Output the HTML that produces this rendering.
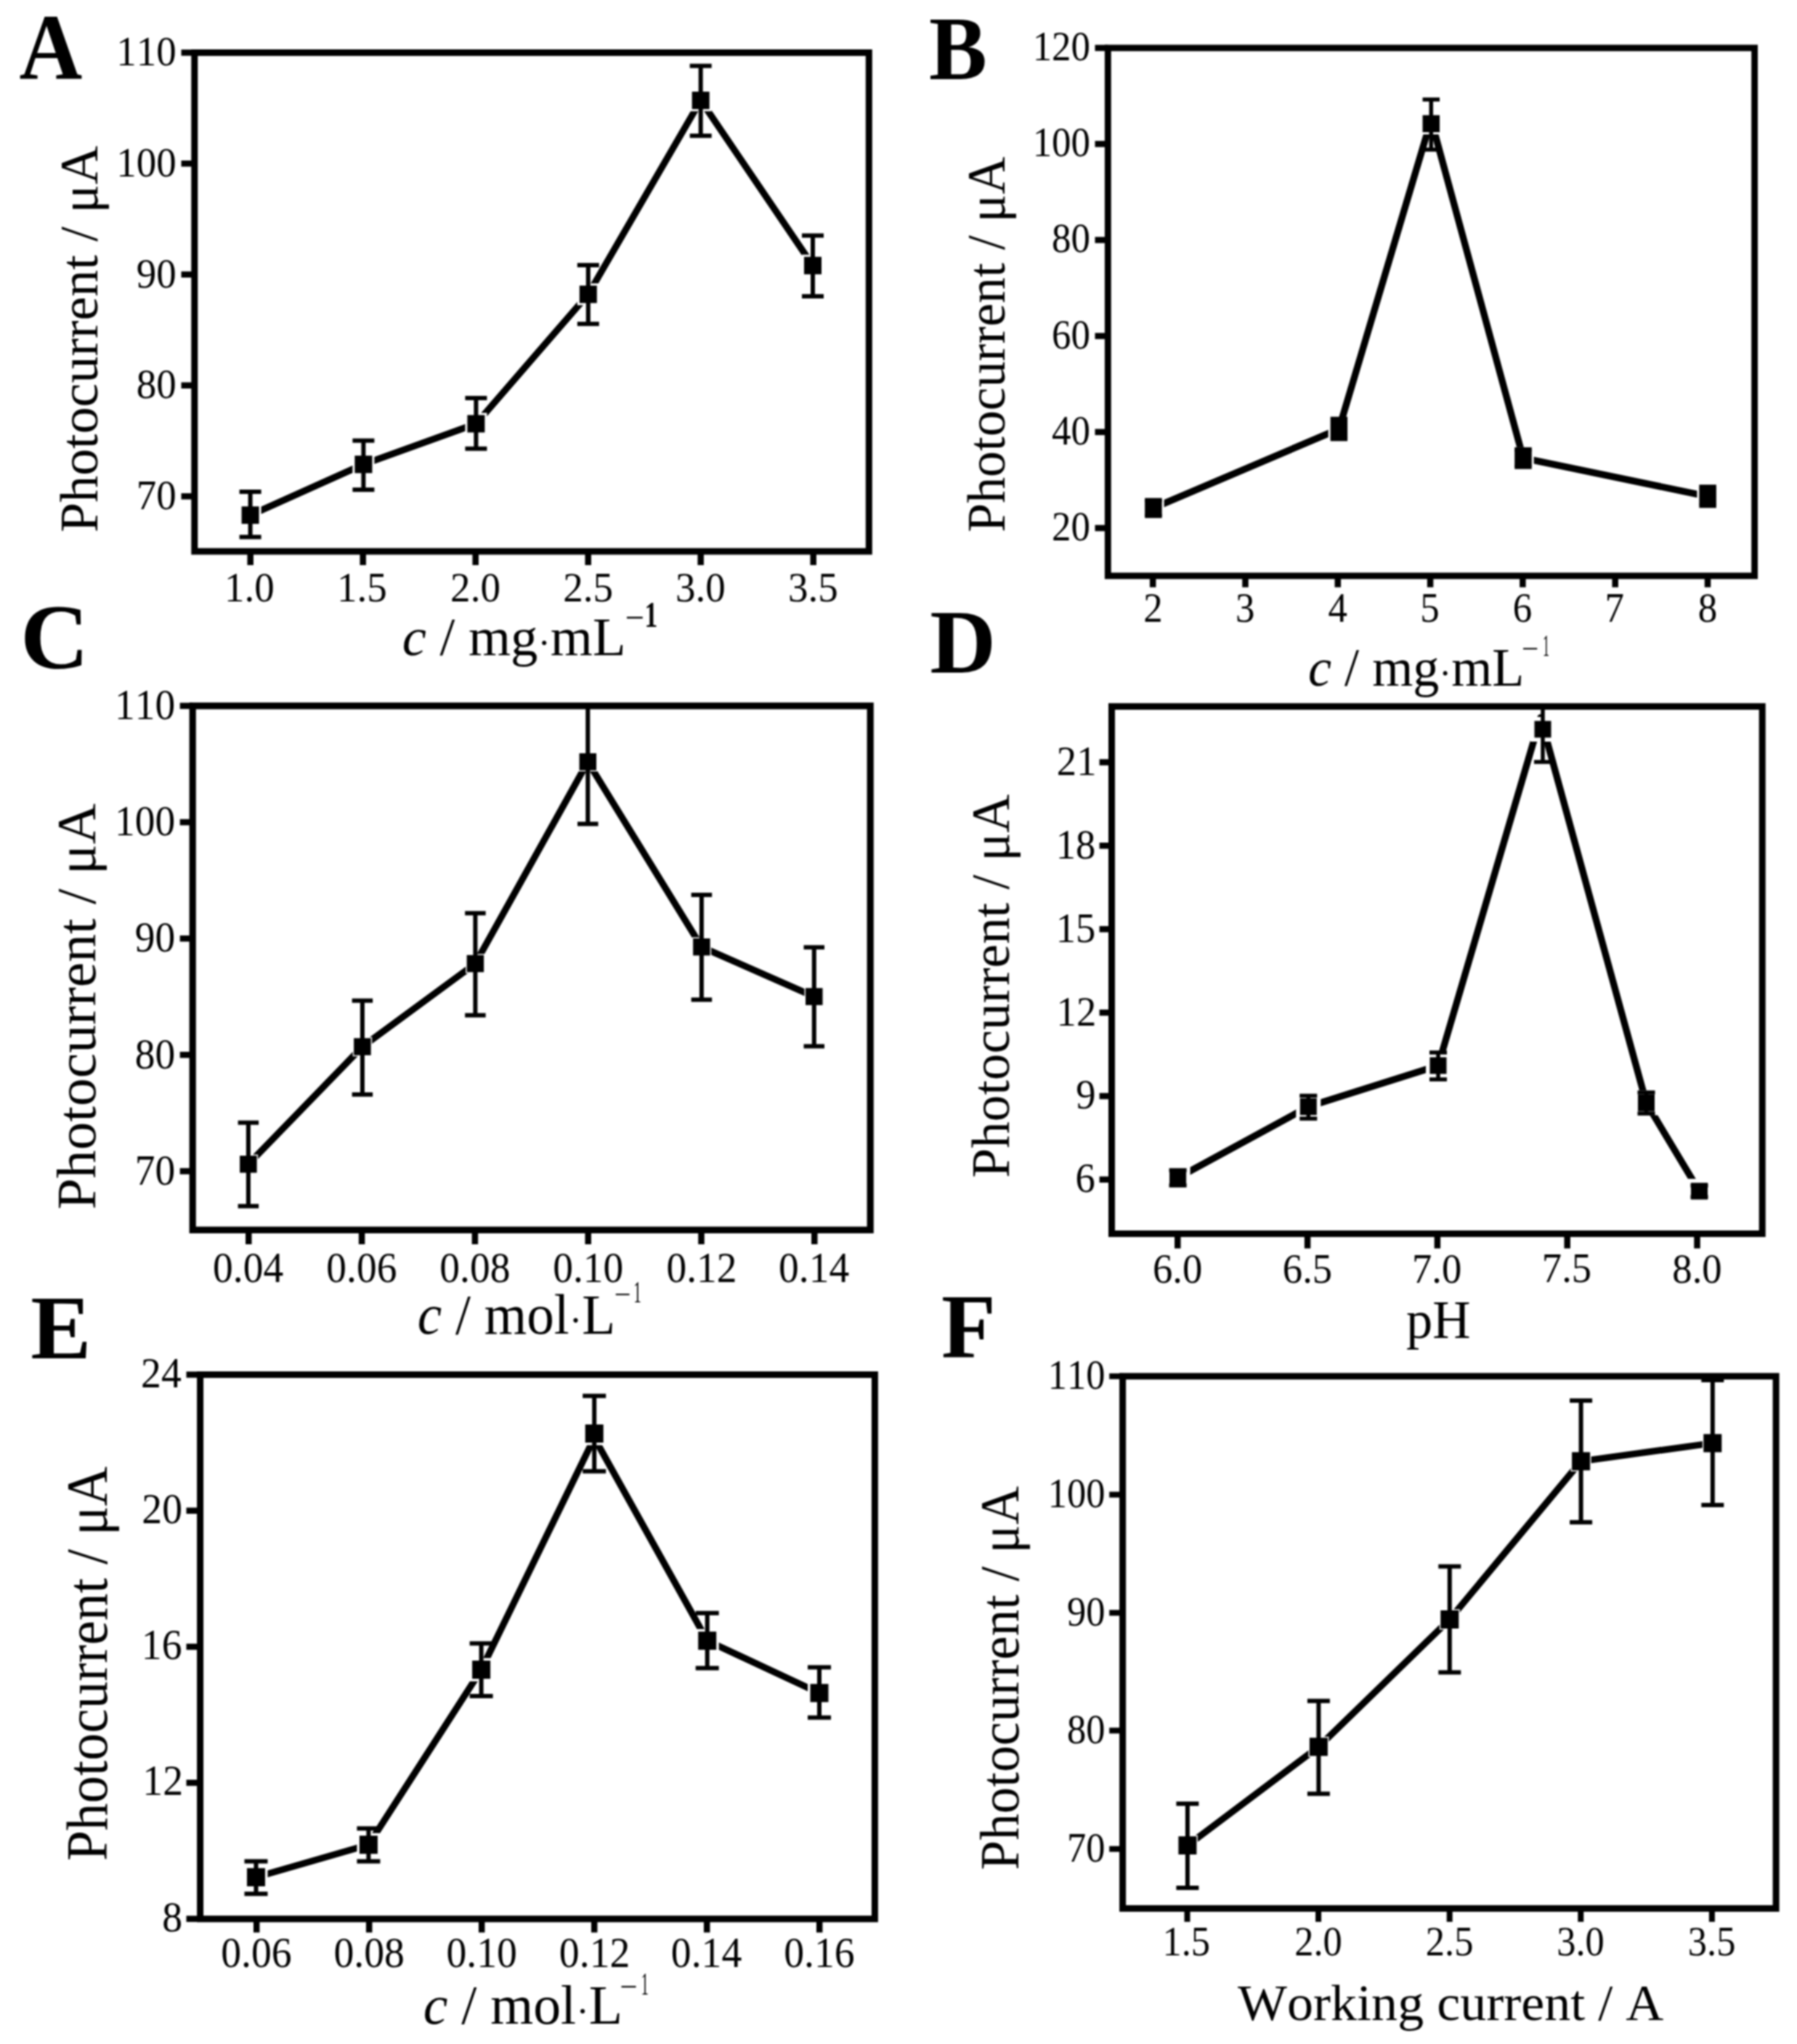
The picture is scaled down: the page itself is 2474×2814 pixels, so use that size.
<!DOCTYPE html>
<html><head><meta charset="utf-8"><title>Photocurrent optimization</title>
<style>
html,body{margin:0;padding:0;background:#fff;}
svg{display:block;filter:blur(0.9px);}
svg text{font-family:"Liberation Serif", "Times New Roman", serif;fill:#000;font-kerning:none;}
</style></head>
<body>
<svg xmlns="http://www.w3.org/2000/svg" width="2474" height="2814" viewBox="0 0 2474 2814">
<rect width="2474" height="2814" fill="#fff"/>
<rect x="267.8" y="72.5" width="928.5" height="686.6" fill="none" stroke="#000" stroke-width="9"/>
<line x1="249.5" y1="72.5" x2="267.8" y2="72.5" stroke="#000" stroke-width="8.5"/>
<line x1="249.5" y1="225.2" x2="267.8" y2="225.2" stroke="#000" stroke-width="8.5"/>
<line x1="249.5" y1="377.9" x2="267.8" y2="377.9" stroke="#000" stroke-width="8.5"/>
<line x1="249.5" y1="530.6" x2="267.8" y2="530.6" stroke="#000" stroke-width="8.5"/>
<line x1="249.5" y1="683.3" x2="267.8" y2="683.3" stroke="#000" stroke-width="8.5"/>
<line x1="344.7" y1="759.1" x2="344.7" y2="778" stroke="#000" stroke-width="8.5"/>
<line x1="499.7" y1="759.1" x2="499.7" y2="778" stroke="#000" stroke-width="8.5"/>
<line x1="654.7" y1="759.1" x2="654.7" y2="778" stroke="#000" stroke-width="8.5"/>
<line x1="809.7" y1="759.1" x2="809.7" y2="778" stroke="#000" stroke-width="8.5"/>
<line x1="964.7" y1="759.1" x2="964.7" y2="778" stroke="#000" stroke-width="8.5"/>
<line x1="1119.7" y1="759.1" x2="1119.7" y2="778" stroke="#000" stroke-width="8.5"/>
<text transform="translate(160.25,90.2) scale(0.95,1)" font-size="58">110</text>
<text transform="translate(160.25,242.9) scale(0.95,1)" font-size="58">100</text>
<text transform="translate(187.8,395.6) scale(0.95,1)" font-size="58">90</text>
<text transform="translate(187.8,548.3) scale(0.95,1)" font-size="58">80</text>
<text transform="translate(187.8,701) scale(0.95,1)" font-size="58">70</text>
<text transform="translate(308.89,828.18) scale(0.95,1)" font-size="58">1.0</text>
<text transform="translate(463.92,828.03) scale(0.95,1)" font-size="58">1.5</text>
<text transform="translate(620.1,828.18) scale(0.95,1)" font-size="58">2.0</text>
<text transform="translate(775.13,828.09) scale(0.95,1)" font-size="58">2.5</text>
<text transform="translate(929.99,828.18) scale(0.95,1)" font-size="58">3.0</text>
<text transform="translate(1085.02,828.09) scale(0.95,1)" font-size="58">3.5</text>
<mask id="m0" maskUnits="userSpaceOnUse" x="0" y="0" width="2474" height="2814"><rect width="2474" height="2814" fill="#fff"/><rect x="329.6" y="694.2" width="30" height="30" fill="#000"/><rect x="485.4" y="624.3" width="30" height="30" fill="#000"/><rect x="640.4" y="568.4" width="30" height="30" fill="#000"/><rect x="794.8" y="390.2" width="30" height="30" fill="#000"/><rect x="949.7" y="123.2" width="30" height="30" fill="#000"/><rect x="1104" y="350.6" width="30" height="30" fill="#000"/></mask>
<polyline points="344.6,709.2 500.4,639.3 655.4,583.4 809.8,405.2 964.7,138.2 1119,365.6" fill="none" stroke="#000" stroke-width="9.2" stroke-linejoin="round" mask="url(#m0)"/>
<line x1="344.6" y1="677" x2="344.6" y2="739.3" stroke="#000" stroke-width="6"/>
<line x1="329.6" y1="677" x2="359.6" y2="677" stroke="#000" stroke-width="6"/>
<line x1="329.6" y1="739.3" x2="359.6" y2="739.3" stroke="#000" stroke-width="6"/>
<rect x="332.6" y="697.2" width="24" height="24" fill="#000"/>
<line x1="500.4" y1="606.6" x2="500.4" y2="674.2" stroke="#000" stroke-width="6"/>
<line x1="485.4" y1="606.6" x2="515.4" y2="606.6" stroke="#000" stroke-width="6"/>
<line x1="485.4" y1="674.2" x2="515.4" y2="674.2" stroke="#000" stroke-width="6"/>
<rect x="488.4" y="627.3" width="24" height="24" fill="#000"/>
<line x1="655.4" y1="548" x2="655.4" y2="617.7" stroke="#000" stroke-width="6"/>
<line x1="640.4" y1="548" x2="670.4" y2="548" stroke="#000" stroke-width="6"/>
<line x1="640.4" y1="617.7" x2="670.4" y2="617.7" stroke="#000" stroke-width="6"/>
<rect x="643.4" y="571.4" width="24" height="24" fill="#000"/>
<line x1="809.8" y1="365" x2="809.8" y2="445.9" stroke="#000" stroke-width="6"/>
<line x1="794.8" y1="365" x2="824.8" y2="365" stroke="#000" stroke-width="6"/>
<line x1="794.8" y1="445.9" x2="824.8" y2="445.9" stroke="#000" stroke-width="6"/>
<rect x="797.8" y="393.2" width="24" height="24" fill="#000"/>
<line x1="964.7" y1="90.7" x2="964.7" y2="186.9" stroke="#000" stroke-width="6"/>
<line x1="949.7" y1="90.7" x2="979.7" y2="90.7" stroke="#000" stroke-width="6"/>
<line x1="949.7" y1="186.9" x2="979.7" y2="186.9" stroke="#000" stroke-width="6"/>
<rect x="952.7" y="126.2" width="24" height="24" fill="#000"/>
<line x1="1119" y1="324.3" x2="1119" y2="407.9" stroke="#000" stroke-width="6"/>
<line x1="1104" y1="324.3" x2="1134" y2="324.3" stroke="#000" stroke-width="6"/>
<line x1="1104" y1="407.9" x2="1134" y2="407.9" stroke="#000" stroke-width="6"/>
<rect x="1107" y="353.6" width="24" height="24" fill="#000"/>
<text transform="translate(134.2,732.93) rotate(-90) scale(0.9865,1)" font-size="74.96">Photocurrent / μA</text>
<text transform="translate(553.8,901.7) scale(1.0170,1)" font-size="73.44"><tspan font-style="italic">c</tspan> / mg<tspan font-size="51.4">·</tspan>mL</text><text transform="translate(887.55,862.9) scale(0.7118,1)" font-size="49.99" font-weight="bold">1</text><text transform="translate(860.57,866.6) scale(0.9370,1)" font-size="50">−</text>
<text transform="translate(26.53,108) scale(0.9374,1)" font-size="128.3" font-weight="bold">A</text>
<rect x="1525.3" y="66" width="890.3" height="726.8" fill="none" stroke="#000" stroke-width="8.8"/>
<line x1="1507.5" y1="66" x2="1525.3" y2="66" stroke="#000" stroke-width="8.5"/>
<line x1="1507.5" y1="198.2" x2="1525.3" y2="198.2" stroke="#000" stroke-width="8.5"/>
<line x1="1507.5" y1="330.4" x2="1525.3" y2="330.4" stroke="#000" stroke-width="8.5"/>
<line x1="1507.5" y1="462.6" x2="1525.3" y2="462.6" stroke="#000" stroke-width="8.5"/>
<line x1="1507.5" y1="594.8" x2="1525.3" y2="594.8" stroke="#000" stroke-width="8.5"/>
<line x1="1507.5" y1="727" x2="1525.3" y2="727" stroke="#000" stroke-width="8.5"/>
<line x1="1587.2" y1="792.8" x2="1587.2" y2="808.5" stroke="#000" stroke-width="8.5"/>
<line x1="1714.5" y1="792.8" x2="1714.5" y2="808.5" stroke="#000" stroke-width="8.5"/>
<line x1="1841.8" y1="792.8" x2="1841.8" y2="808.5" stroke="#000" stroke-width="8.5"/>
<line x1="1969.1" y1="792.8" x2="1969.1" y2="808.5" stroke="#000" stroke-width="8.5"/>
<line x1="2096.4" y1="792.8" x2="2096.4" y2="808.5" stroke="#000" stroke-width="8.5"/>
<line x1="2223.7" y1="792.8" x2="2223.7" y2="808.5" stroke="#000" stroke-width="8.5"/>
<line x1="2351" y1="792.8" x2="2351" y2="808.5" stroke="#000" stroke-width="8.5"/>
<text transform="translate(1421.64,83.05) scale(0.945,1)" font-size="56">120</text>
<text transform="translate(1421.64,215.25) scale(0.945,1)" font-size="56">100</text>
<text transform="translate(1448.1,347.45) scale(0.945,1)" font-size="56">80</text>
<text transform="translate(1448.1,479.65) scale(0.945,1)" font-size="56">60</text>
<text transform="translate(1448.1,611.85) scale(0.945,1)" font-size="56">40</text>
<text transform="translate(1448.1,744.05) scale(0.945,1)" font-size="56">20</text>
<text transform="translate(1574.27,856.14) scale(0.945,1)" font-size="56">2</text>
<text transform="translate(1701.04,855.87) scale(0.945,1)" font-size="56">3</text>
<text transform="translate(1828.47,856.03) scale(0.945,1)" font-size="56">4</text>
<text transform="translate(1955.37,855.66) scale(0.945,1)" font-size="56">5</text>
<text transform="translate(2082.82,855.87) scale(0.945,1)" font-size="56">6</text>
<text transform="translate(2209.49,855.93) scale(0.945,1)" font-size="56">7</text>
<text transform="translate(2337.77,855.95) scale(0.945,1)" font-size="56">8</text>
<mask id="m1" maskUnits="userSpaceOnUse" x="0" y="0" width="2474" height="2814"><rect width="2474" height="2814" fill="#fff"/><rect x="1573.15" y="684.65" width="29.5" height="29.5" fill="#000"/><rect x="1828.65" y="575.85" width="29.5" height="29.5" fill="#000"/><rect x="1955.55" y="155.55" width="29.5" height="29.5" fill="#000"/><rect x="2082.25" y="615.85" width="29.5" height="29.5" fill="#000"/><rect x="2336.35" y="668.55" width="29.5" height="29.5" fill="#000"/></mask>
<polyline points="1587.9,699.4 1843.4,590.6 1970.3,165 2097,630.6 2351.1,683.3" fill="none" stroke="#000" stroke-width="9.4" stroke-linejoin="round" mask="url(#m1)"/>
<line x1="1587.9" y1="688.4" x2="1587.9" y2="710.4" stroke="#000" stroke-width="5.5"/>
<line x1="1576.15" y1="688.4" x2="1599.65" y2="688.4" stroke="#000" stroke-width="5.5"/>
<line x1="1576.15" y1="710.4" x2="1599.65" y2="710.4" stroke="#000" stroke-width="5.5"/>
<rect x="1576.15" y="687.65" width="23.5" height="23.5" fill="#000"/>
<line x1="1843.4" y1="576.5" x2="1843.4" y2="604.5" stroke="#000" stroke-width="5.5"/>
<line x1="1831.65" y1="576.5" x2="1855.15" y2="576.5" stroke="#000" stroke-width="5.5"/>
<line x1="1831.65" y1="604.5" x2="1855.15" y2="604.5" stroke="#000" stroke-width="5.5"/>
<rect x="1831.65" y="578.85" width="23.5" height="23.5" fill="#000"/>
<line x1="1970.3" y1="137" x2="1970.3" y2="206" stroke="#000" stroke-width="5.5"/>
<line x1="1958.55" y1="137" x2="1982.05" y2="137" stroke="#000" stroke-width="5.5"/>
<line x1="1958.55" y1="206" x2="1982.05" y2="206" stroke="#000" stroke-width="5.5"/>
<rect x="1958.55" y="158.55" width="23.5" height="23.5" fill="#000"/>
<line x1="2097" y1="618.5" x2="2097" y2="643" stroke="#000" stroke-width="5.5"/>
<line x1="2085.25" y1="618.5" x2="2108.75" y2="618.5" stroke="#000" stroke-width="5.5"/>
<line x1="2085.25" y1="643" x2="2108.75" y2="643" stroke="#000" stroke-width="5.5"/>
<rect x="2085.25" y="618.85" width="23.5" height="23.5" fill="#000"/>
<line x1="2351.1" y1="670" x2="2351.1" y2="696.5" stroke="#000" stroke-width="5.5"/>
<line x1="2339.35" y1="670" x2="2362.85" y2="670" stroke="#000" stroke-width="5.5"/>
<line x1="2339.35" y1="696.5" x2="2362.85" y2="696.5" stroke="#000" stroke-width="5.5"/>
<rect x="2339.35" y="671.55" width="23.5" height="23.5" fill="#000"/>
<text transform="translate(1382.8,732.77) rotate(-90) scale(0.9618,1)" font-size="74.66">Photocurrent / μA</text>
<text transform="translate(1800.98,943.6) scale(0.9687,1)" font-size="74.5"><tspan font-style="italic">c</tspan> / mg<tspan font-size="52.15">·</tspan>mL</text><text transform="translate(2124.1,903.4) scale(0.4348,1)" font-size="41.81">1</text><text transform="translate(2095.05,906.68) scale(0.9867,1)" font-size="41.82">−</text>
<text transform="translate(1279.01,108.64) scale(0.9658,1)" font-size="124.07" font-weight="bold">B</text>
<rect x="265.2" y="971.8" width="933" height="721.5" fill="none" stroke="#000" stroke-width="9.2"/>
<line x1="247.7" y1="971.8" x2="265.2" y2="971.8" stroke="#000" stroke-width="8.5"/>
<line x1="247.7" y1="1131.95" x2="265.2" y2="1131.95" stroke="#000" stroke-width="8.5"/>
<line x1="247.7" y1="1292.1" x2="265.2" y2="1292.1" stroke="#000" stroke-width="8.5"/>
<line x1="247.7" y1="1452.25" x2="265.2" y2="1452.25" stroke="#000" stroke-width="8.5"/>
<line x1="247.7" y1="1612.4" x2="265.2" y2="1612.4" stroke="#000" stroke-width="8.5"/>
<line x1="342.3" y1="1693.3" x2="342.3" y2="1713" stroke="#000" stroke-width="8.5"/>
<line x1="498.1" y1="1693.3" x2="498.1" y2="1713" stroke="#000" stroke-width="8.5"/>
<line x1="653.9" y1="1693.3" x2="653.9" y2="1713" stroke="#000" stroke-width="8.5"/>
<line x1="809.7" y1="1693.3" x2="809.7" y2="1713" stroke="#000" stroke-width="8.5"/>
<line x1="965.5" y1="1693.3" x2="965.5" y2="1713" stroke="#000" stroke-width="8.5"/>
<line x1="1121.3" y1="1693.3" x2="1121.3" y2="1713" stroke="#000" stroke-width="8.5"/>
<text transform="translate(158.06,990.16) scale(0.925,1)" font-size="60">110</text>
<text transform="translate(158.06,1150.31) scale(0.925,1)" font-size="60">100</text>
<text transform="translate(185.81,1310.46) scale(0.925,1)" font-size="60">90</text>
<text transform="translate(185.81,1470.61) scale(0.925,1)" font-size="60">80</text>
<text transform="translate(185.81,1630.76) scale(0.925,1)" font-size="60">70</text>
<text transform="translate(293.11,1765.03) scale(0.925,1)" font-size="60">0.04</text>
<text transform="translate(449.31,1765.03) scale(0.925,1)" font-size="60">0.06</text>
<text transform="translate(605.34,1765.03) scale(0.925,1)" font-size="60">0.08</text>
<text transform="translate(761.14,1765.03) scale(0.925,1)" font-size="60">0.10</text>
<text transform="translate(917.41,1765.03) scale(0.925,1)" font-size="60">0.12</text>
<text transform="translate(1072.11,1765.03) scale(0.925,1)" font-size="60">0.14</text>
<mask id="m2" maskUnits="userSpaceOnUse" x="0" y="0" width="2474" height="2814"><rect width="2474" height="2814" fill="#fff"/><rect x="328.65" y="1589.55" width="26.5" height="26.5" fill="#000"/><rect x="485.65" y="1427.75" width="26.5" height="26.5" fill="#000"/><rect x="641.15" y="1313.35" width="26.5" height="26.5" fill="#000"/><rect x="796.05" y="1035.55" width="26.5" height="26.5" fill="#000"/><rect x="952.65" y="1290.45" width="26.5" height="26.5" fill="#000"/><rect x="1107.55" y="1358.75" width="26.5" height="26.5" fill="#000"/></mask>
<polyline points="341.9,1602.8 498.9,1441 654.4,1326.6 809.3,1048.8 965.9,1303.7 1120.8,1372" fill="none" stroke="#000" stroke-width="9.2" stroke-linejoin="round" mask="url(#m2)"/>
<line x1="341.9" y1="1545.6" x2="341.9" y2="1660.5" stroke="#000" stroke-width="6"/>
<line x1="327.65" y1="1545.6" x2="356.15" y2="1545.6" stroke="#000" stroke-width="6"/>
<line x1="327.65" y1="1660.5" x2="356.15" y2="1660.5" stroke="#000" stroke-width="6"/>
<rect x="330.15" y="1591.05" width="23.5" height="23.5" fill="#000"/>
<line x1="498.9" y1="1377.6" x2="498.9" y2="1506.8" stroke="#000" stroke-width="6"/>
<line x1="484.65" y1="1377.6" x2="513.15" y2="1377.6" stroke="#000" stroke-width="6"/>
<line x1="484.65" y1="1506.8" x2="513.15" y2="1506.8" stroke="#000" stroke-width="6"/>
<rect x="487.15" y="1429.25" width="23.5" height="23.5" fill="#000"/>
<line x1="654.4" y1="1257.2" x2="654.4" y2="1397.7" stroke="#000" stroke-width="6"/>
<line x1="640.15" y1="1257.2" x2="668.65" y2="1257.2" stroke="#000" stroke-width="6"/>
<line x1="640.15" y1="1397.7" x2="668.65" y2="1397.7" stroke="#000" stroke-width="6"/>
<rect x="642.65" y="1314.85" width="23.5" height="23.5" fill="#000"/>
<line x1="809.3" y1="974" x2="809.3" y2="1134.3" stroke="#000" stroke-width="6"/>
<line x1="795.05" y1="1134.3" x2="823.55" y2="1134.3" stroke="#000" stroke-width="6"/>
<rect x="797.55" y="1037.05" width="23.5" height="23.5" fill="#000"/>
<line x1="965.9" y1="1232" x2="965.9" y2="1376.3" stroke="#000" stroke-width="6"/>
<line x1="951.65" y1="1232" x2="980.15" y2="1232" stroke="#000" stroke-width="6"/>
<line x1="951.65" y1="1376.3" x2="980.15" y2="1376.3" stroke="#000" stroke-width="6"/>
<rect x="954.15" y="1291.95" width="23.5" height="23.5" fill="#000"/>
<line x1="1120.8" y1="1304.2" x2="1120.8" y2="1440.4" stroke="#000" stroke-width="6"/>
<line x1="1106.55" y1="1304.2" x2="1135.05" y2="1304.2" stroke="#000" stroke-width="6"/>
<line x1="1106.55" y1="1440.4" x2="1135.05" y2="1440.4" stroke="#000" stroke-width="6"/>
<rect x="1109.05" y="1360.25" width="23.5" height="23.5" fill="#000"/>
<text transform="translate(131.2,1665.34) rotate(-90) scale(1.0070,1)" font-size="77.1">Photocurrent / μA</text>
<text transform="translate(574.78,1835.5) scale(0.9498,1)" font-size="79.24"><tspan font-style="italic">c</tspan> / mol<tspan font-size="55.47">·</tspan>L</text><text transform="translate(872.23,1792.9) scale(0.5152,1)" font-size="41.35">1</text><text transform="translate(845.69,1796.33) scale(0.9767,1)" font-size="41.36">−</text>
<text transform="translate(28.01,919.56) scale(1.0265,1)" font-size="127.4" font-weight="bold">C</text>
<rect x="1530.5" y="972.6" width="895.7" height="725.9" fill="none" stroke="#000" stroke-width="9"/>
<line x1="1513.6" y1="1049.4" x2="1530.5" y2="1049.4" stroke="#000" stroke-width="8.5"/>
<line x1="1513.6" y1="1164.3" x2="1530.5" y2="1164.3" stroke="#000" stroke-width="8.5"/>
<line x1="1513.6" y1="1279.2" x2="1530.5" y2="1279.2" stroke="#000" stroke-width="8.5"/>
<line x1="1513.6" y1="1394.1" x2="1530.5" y2="1394.1" stroke="#000" stroke-width="8.5"/>
<line x1="1513.6" y1="1509" x2="1530.5" y2="1509" stroke="#000" stroke-width="8.5"/>
<line x1="1513.6" y1="1623.9" x2="1530.5" y2="1623.9" stroke="#000" stroke-width="8.5"/>
<line x1="1621.3" y1="1698.5" x2="1621.3" y2="1718.7" stroke="#000" stroke-width="8.5"/>
<line x1="1800.1" y1="1698.5" x2="1800.1" y2="1718.7" stroke="#000" stroke-width="8.5"/>
<line x1="1978.9" y1="1698.5" x2="1978.9" y2="1718.7" stroke="#000" stroke-width="8.5"/>
<line x1="2157.7" y1="1698.5" x2="2157.7" y2="1718.7" stroke="#000" stroke-width="8.5"/>
<line x1="2336.5" y1="1698.5" x2="2336.5" y2="1718.7" stroke="#000" stroke-width="8.5"/>
<text transform="translate(1454.86,1067.14) scale(0.95,1)" font-size="57.5">21</text>
<text transform="translate(1453.66,1181.84) scale(0.95,1)" font-size="57.5">18</text>
<text transform="translate(1453.71,1296.6) scale(0.95,1)" font-size="57.5">15</text>
<text transform="translate(1454.59,1411.84) scale(0.95,1)" font-size="57.5">12</text>
<text transform="translate(1481.13,1526.45) scale(0.95,1)" font-size="57.5">9</text>
<text transform="translate(1480.51,1641.35) scale(0.95,1)" font-size="57.5">6</text>
<text transform="translate(1587.03,1765.71) scale(0.95,1)" font-size="57.5">6.0</text>
<text transform="translate(1765.85,1765.63) scale(0.95,1)" font-size="57.5">6.5</text>
<text transform="translate(1944,1765.71) scale(0.95,1)" font-size="57.5">7.0</text>
<text transform="translate(2122.83,1765.42) scale(0.95,1)" font-size="57.5">7.5</text>
<text transform="translate(2302.36,1765.71) scale(0.95,1)" font-size="57.5">8.0</text>
<mask id="m3" maskUnits="userSpaceOnUse" x="0" y="0" width="2474" height="2814"><rect width="2474" height="2814" fill="#fff"/><rect x="1604.6" y="1604.4" width="34" height="34" fill="#000"/><rect x="1784.3" y="1506.6" width="34" height="34" fill="#000"/><rect x="1963" y="1450" width="34" height="34" fill="#000"/><rect x="2107" y="987" width="34" height="34" fill="#000"/><rect x="2249.5" y="1501.3" width="34" height="34" fill="#000"/><rect x="2322.5" y="1622.9" width="34" height="34" fill="#000"/></mask>
<polyline points="1621.6,1621.4 1801.3,1523.6 1980,1467 2121,988 2266.5,1518.3 2339.5,1639.9" fill="none" stroke="#000" stroke-width="9.4" stroke-linejoin="round" mask="url(#m3)"/>
<line x1="1621.6" y1="1611" x2="1621.6" y2="1632" stroke="#000" stroke-width="5.5"/>
<line x1="1609.6" y1="1611" x2="1633.6" y2="1611" stroke="#000" stroke-width="5.5"/>
<line x1="1609.6" y1="1632" x2="1633.6" y2="1632" stroke="#000" stroke-width="5.5"/>
<rect x="1610.1" y="1609.9" width="23" height="23" fill="#000"/>
<line x1="1801.3" y1="1508.5" x2="1801.3" y2="1540" stroke="#000" stroke-width="5.5"/>
<line x1="1789.3" y1="1508.5" x2="1813.3" y2="1508.5" stroke="#000" stroke-width="5.5"/>
<line x1="1789.3" y1="1540" x2="1813.3" y2="1540" stroke="#000" stroke-width="5.5"/>
<rect x="1789.8" y="1512.1" width="23" height="23" fill="#000"/>
<line x1="1980" y1="1449" x2="1980" y2="1486" stroke="#000" stroke-width="5.5"/>
<line x1="1968" y1="1449" x2="1992" y2="1449" stroke="#000" stroke-width="5.5"/>
<line x1="1968" y1="1486" x2="1992" y2="1486" stroke="#000" stroke-width="5.5"/>
<rect x="1968.5" y="1455.5" width="23" height="23" fill="#000"/>
<line x1="2124" y1="972.6" x2="2124" y2="1049" stroke="#000" stroke-width="5.5"/>
<line x1="2112" y1="1049" x2="2136" y2="1049" stroke="#000" stroke-width="5.5"/>
<rect x="2112.5" y="992.5" width="23" height="23" fill="#000"/>
<line x1="2266.5" y1="1504" x2="2266.5" y2="1533" stroke="#000" stroke-width="5.5"/>
<line x1="2254.5" y1="1504" x2="2278.5" y2="1504" stroke="#000" stroke-width="5.5"/>
<line x1="2254.5" y1="1533" x2="2278.5" y2="1533" stroke="#000" stroke-width="5.5"/>
<rect x="2255" y="1506.8" width="23" height="23" fill="#000"/>
<line x1="2339.5" y1="1632" x2="2339.5" y2="1648" stroke="#000" stroke-width="5.5"/>
<line x1="2327.5" y1="1632" x2="2351.5" y2="1632" stroke="#000" stroke-width="5.5"/>
<line x1="2327.5" y1="1648" x2="2351.5" y2="1648" stroke="#000" stroke-width="5.5"/>
<rect x="2328" y="1628.4" width="23" height="23" fill="#000"/>
<text transform="translate(1389,1621.61) rotate(-90) scale(0.9845,1)" font-size="74.5">Photocurrent / μA</text>
<text transform="translate(1935.93,1842.47) scale(0.9812,1)" font-size="73.88">pH</text>
<text transform="translate(1280.29,925.56) scale(1.0163,1)" font-size="123.95" font-weight="bold">D</text>
<rect x="275.6" y="1892.5" width="928.8" height="749.3" fill="none" stroke="#000" stroke-width="9"/>
<line x1="256.5" y1="1892.5" x2="275.6" y2="1892.5" stroke="#000" stroke-width="8.5"/>
<line x1="256.5" y1="2079.8" x2="275.6" y2="2079.8" stroke="#000" stroke-width="8.5"/>
<line x1="256.5" y1="2267.1" x2="275.6" y2="2267.1" stroke="#000" stroke-width="8.5"/>
<line x1="256.5" y1="2454.4" x2="275.6" y2="2454.4" stroke="#000" stroke-width="8.5"/>
<line x1="256.5" y1="2641.7" x2="275.6" y2="2641.7" stroke="#000" stroke-width="8.5"/>
<line x1="353.2" y1="2641.8" x2="353.2" y2="2660.5" stroke="#000" stroke-width="8.5"/>
<line x1="508.2" y1="2641.8" x2="508.2" y2="2660.5" stroke="#000" stroke-width="8.5"/>
<line x1="663.2" y1="2641.8" x2="663.2" y2="2660.5" stroke="#000" stroke-width="8.5"/>
<line x1="818.2" y1="2641.8" x2="818.2" y2="2660.5" stroke="#000" stroke-width="8.5"/>
<line x1="973.2" y1="2641.8" x2="973.2" y2="2660.5" stroke="#000" stroke-width="8.5"/>
<line x1="1128.2" y1="2641.8" x2="1128.2" y2="2660.5" stroke="#000" stroke-width="8.5"/>
<text transform="translate(194.07,1909.56) scale(0.93,1)" font-size="60">24</text>
<text transform="translate(195.33,2096.66) scale(0.93,1)" font-size="60">20</text>
<text transform="translate(194.86,2283.87) scale(0.93,1)" font-size="60">16</text>
<text transform="translate(196.28,2471.46) scale(0.93,1)" font-size="60">12</text>
<text transform="translate(223.23,2658.56) scale(0.93,1)" font-size="60">8</text>
<text transform="translate(304.14,2707.53) scale(0.93,1)" font-size="60">0.06</text>
<text transform="translate(459.38,2707.53) scale(0.93,1)" font-size="60">0.08</text>
<text transform="translate(614.38,2707.53) scale(0.93,1)" font-size="60">0.10</text>
<text transform="translate(769.85,2707.53) scale(0.93,1)" font-size="60">0.12</text>
<text transform="translate(923.75,2707.53) scale(0.93,1)" font-size="60">0.14</text>
<text transform="translate(1079.14,2707.53) scale(0.93,1)" font-size="60">0.16</text>
<mask id="m4" maskUnits="userSpaceOnUse" x="0" y="0" width="2474" height="2814"><rect width="2474" height="2814" fill="#fff"/><rect x="336.5" y="2568.4" width="32" height="32" fill="#000"/><rect x="491.4" y="2523.7" width="32" height="32" fill="#000"/><rect x="646.6" y="2282.7" width="32" height="32" fill="#000"/><rect x="802.2" y="1957.6" width="32" height="32" fill="#000"/><rect x="957.7" y="2242.8" width="32" height="32" fill="#000"/><rect x="1112" y="2314.8" width="32" height="32" fill="#000"/></mask>
<polyline points="352.5,2584.4 507.4,2539.7 662.6,2298.7 818.2,1979.5 973.7,2258.8 1128,2330.8" fill="none" stroke="#000" stroke-width="9.2" stroke-linejoin="round" mask="url(#m4)"/>
<line x1="352.5" y1="2562.6" x2="352.5" y2="2607.3" stroke="#000" stroke-width="6"/>
<line x1="336.5" y1="2562.6" x2="368.5" y2="2562.6" stroke="#000" stroke-width="6"/>
<line x1="336.5" y1="2607.3" x2="368.5" y2="2607.3" stroke="#000" stroke-width="6"/>
<rect x="340" y="2571.9" width="25" height="25" fill="#000"/>
<line x1="507.4" y1="2517.3" x2="507.4" y2="2562.6" stroke="#000" stroke-width="6"/>
<line x1="491.4" y1="2517.3" x2="523.4" y2="2517.3" stroke="#000" stroke-width="6"/>
<line x1="491.4" y1="2562.6" x2="523.4" y2="2562.6" stroke="#000" stroke-width="6"/>
<rect x="494.9" y="2527.2" width="25" height="25" fill="#000"/>
<line x1="662.6" y1="2262.5" x2="662.6" y2="2334.9" stroke="#000" stroke-width="6"/>
<line x1="646.6" y1="2262.5" x2="678.6" y2="2262.5" stroke="#000" stroke-width="6"/>
<line x1="646.6" y1="2334.9" x2="678.6" y2="2334.9" stroke="#000" stroke-width="6"/>
<rect x="650.1" y="2286.2" width="25" height="25" fill="#000"/>
<line x1="818.2" y1="1921.8" x2="818.2" y2="2025.4" stroke="#000" stroke-width="6"/>
<line x1="802.2" y1="1921.8" x2="834.2" y2="1921.8" stroke="#000" stroke-width="6"/>
<line x1="802.2" y1="2025.4" x2="834.2" y2="2025.4" stroke="#000" stroke-width="6"/>
<rect x="805.7" y="1961.1" width="25" height="25" fill="#000"/>
<line x1="973.7" y1="2220.7" x2="973.7" y2="2296.5" stroke="#000" stroke-width="6"/>
<line x1="957.7" y1="2220.7" x2="989.7" y2="2220.7" stroke="#000" stroke-width="6"/>
<line x1="957.7" y1="2296.5" x2="989.7" y2="2296.5" stroke="#000" stroke-width="6"/>
<rect x="961.2" y="2246.3" width="25" height="25" fill="#000"/>
<line x1="1128" y1="2295.4" x2="1128" y2="2364.6" stroke="#000" stroke-width="6"/>
<line x1="1112" y1="2295.4" x2="1144" y2="2295.4" stroke="#000" stroke-width="6"/>
<line x1="1112" y1="2364.6" x2="1144" y2="2364.6" stroke="#000" stroke-width="6"/>
<rect x="1115.5" y="2318.3" width="25" height="25" fill="#000"/>
<text transform="translate(147.2,2562.07) rotate(-90) scale(0.9341,1)" font-size="80.76">Photocurrent / μA</text>
<text transform="translate(582.67,2786.2) scale(1.0091,1)" font-size="75.11"><tspan font-style="italic">c</tspan> / mol<tspan font-size="52.58">·</tspan>L</text><text transform="translate(882.83,2746.1) scale(0.4575,1)" font-size="44.08">1</text><text transform="translate(853.46,2749.64) scale(0.9748,1)" font-size="44.09">−</text>
<text transform="translate(42.26,1870.3) scale(1.0039,1)" font-size="124.47" font-weight="bold">E</text>
<rect x="1545.6" y="1894.7" width="899.5" height="732.7" fill="none" stroke="#000" stroke-width="9"/>
<line x1="1527.2" y1="1894.7" x2="1545.6" y2="1894.7" stroke="#000" stroke-width="8"/>
<line x1="1527.2" y1="2057.7" x2="1545.6" y2="2057.7" stroke="#000" stroke-width="8"/>
<line x1="1527.2" y1="2220.4" x2="1545.6" y2="2220.4" stroke="#000" stroke-width="8"/>
<line x1="1527.2" y1="2382.5" x2="1545.6" y2="2382.5" stroke="#000" stroke-width="8"/>
<line x1="1527.2" y1="2545.5" x2="1545.6" y2="2545.5" stroke="#000" stroke-width="8"/>
<line x1="1634.5" y1="2627.4" x2="1634.5" y2="2645.8" stroke="#000" stroke-width="8"/>
<line x1="1815.1" y1="2627.4" x2="1815.1" y2="2645.8" stroke="#000" stroke-width="8"/>
<line x1="1995.7" y1="2627.4" x2="1995.7" y2="2645.8" stroke="#000" stroke-width="8"/>
<line x1="2176.3" y1="2627.4" x2="2176.3" y2="2645.8" stroke="#000" stroke-width="8"/>
<line x1="2356.9" y1="2627.4" x2="2356.9" y2="2645.8" stroke="#000" stroke-width="8"/>
<text transform="translate(1442.76,1912.1) scale(0.905,1)" font-size="58">110</text>
<text transform="translate(1442.76,2075.1) scale(0.905,1)" font-size="58">100</text>
<text transform="translate(1469.01,2237.8) scale(0.905,1)" font-size="58">90</text>
<text transform="translate(1469.01,2399.9) scale(0.905,1)" font-size="58">80</text>
<text transform="translate(1469.01,2562.9) scale(0.905,1)" font-size="58">70</text>
<text transform="translate(1600.41,2692.23) scale(0.905,1)" font-size="58">1.5</text>
<text transform="translate(1782.14,2692.38) scale(0.905,1)" font-size="58">2.0</text>
<text transform="translate(1962.77,2692.29) scale(0.905,1)" font-size="58">2.5</text>
<text transform="translate(2143.24,2692.38) scale(0.905,1)" font-size="58">3.0</text>
<text transform="translate(2323.86,2692.29) scale(0.905,1)" font-size="58">3.5</text>
<mask id="m5" maskUnits="userSpaceOnUse" x="0" y="0" width="2474" height="2814"><rect width="2474" height="2814" fill="#fff"/><rect x="1620.9" y="2526.6" width="28" height="28" fill="#000"/><rect x="1801.4" y="2390.9" width="28" height="28" fill="#000"/><rect x="1981.8" y="2215.5" width="28" height="28" fill="#000"/><rect x="2162.6" y="1997.7" width="28" height="28" fill="#000"/><rect x="2343.8" y="1972.8" width="28" height="28" fill="#000"/></mask>
<polyline points="1634.9,2540.6 1815.4,2404.9 1995.8,2229.5 2176.6,2011.7 2357.8,1986.8" fill="none" stroke="#000" stroke-width="9.2" stroke-linejoin="round" mask="url(#m5)"/>
<line x1="1634.9" y1="2483.2" x2="1634.9" y2="2599" stroke="#000" stroke-width="6"/>
<line x1="1619.4" y1="2483.2" x2="1650.4" y2="2483.2" stroke="#000" stroke-width="6"/>
<line x1="1619.4" y1="2599" x2="1650.4" y2="2599" stroke="#000" stroke-width="6"/>
<rect x="1622.4" y="2528.1" width="25" height="25" fill="#000"/>
<line x1="1815.4" y1="2341.7" x2="1815.4" y2="2469.5" stroke="#000" stroke-width="6"/>
<line x1="1799.9" y1="2341.7" x2="1830.9" y2="2341.7" stroke="#000" stroke-width="6"/>
<line x1="1799.9" y1="2469.5" x2="1830.9" y2="2469.5" stroke="#000" stroke-width="6"/>
<rect x="1802.9" y="2392.4" width="25" height="25" fill="#000"/>
<line x1="1995.8" y1="2156.5" x2="1995.8" y2="2302.4" stroke="#000" stroke-width="6"/>
<line x1="1980.3" y1="2156.5" x2="2011.3" y2="2156.5" stroke="#000" stroke-width="6"/>
<line x1="1980.3" y1="2302.4" x2="2011.3" y2="2302.4" stroke="#000" stroke-width="6"/>
<rect x="1983.3" y="2217" width="25" height="25" fill="#000"/>
<line x1="2176.6" y1="1928.2" x2="2176.6" y2="2095.7" stroke="#000" stroke-width="6"/>
<line x1="2161.1" y1="1928.2" x2="2192.1" y2="1928.2" stroke="#000" stroke-width="6"/>
<line x1="2161.1" y1="2095.7" x2="2192.1" y2="2095.7" stroke="#000" stroke-width="6"/>
<rect x="2164.1" y="1999.2" width="25" height="25" fill="#000"/>
<line x1="2357.8" y1="1900" x2="2357.8" y2="2072" stroke="#000" stroke-width="6"/>
<line x1="2342.3" y1="1900" x2="2373.3" y2="1900" stroke="#000" stroke-width="6"/>
<line x1="2342.3" y1="2072" x2="2373.3" y2="2072" stroke="#000" stroke-width="6"/>
<rect x="2345.3" y="1974.3" width="25" height="25" fill="#000"/>
<text transform="translate(1401.6,2574.41) rotate(-90) scale(0.9535,1)" font-size="76.95">Photocurrent / μA</text>
<text transform="translate(1704.03,2780.54) scale(1.0258,1)" font-size="70.25">Working current / A</text>
<text transform="translate(1296,1868.1) scale(0.9861,1)" font-size="124.47" font-weight="bold">F</text>
</svg>
</body></html>
